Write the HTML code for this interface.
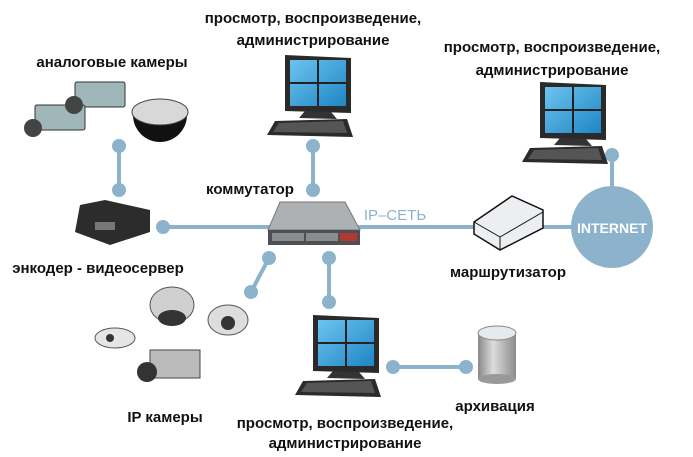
<!DOCTYPE html>
<html><head><meta charset="utf-8"><style>
html,body{margin:0;padding:0;background:#fff;}
svg{display:block}
text{font-family:"Liberation Sans",sans-serif;font-weight:bold;font-size:15px;fill:#111;text-anchor:middle}
</style></head><body>
<svg width="693" height="457" viewBox="0 0 693 457">
<defs>
<linearGradient id="scr" x1="0" y1="0" x2="1" y2="1"><stop offset="0" stop-color="#6ec3ef"/><stop offset="1" stop-color="#1d86c4"/></linearGradient>
<linearGradient id="cyl" x1="0" x2="1"><stop offset="0" stop-color="#888"/><stop offset=".4" stop-color="#ddd"/><stop offset="1" stop-color="#8a8a8a"/></linearGradient>
<g id="pc">
<polygon points="0,0 66,3 66,58 0,56" fill="#2a2a2a"/>
<rect x="5" y="5" width="56" height="46" fill="url(#scr)"/>
<line x1="33" y1="5" x2="33" y2="51" stroke="#222" stroke-width="2"/>
<line x1="5" y1="28" x2="61" y2="28" stroke="#222" stroke-width="2"/>
<polygon points="20,56 46,57 52,64 14,63" fill="#333"/>
<polygon points="-10,66 62,64 68,82 -18,80" fill="#2b2b2b"/>
<polygon points="-6,68 58,66 62,78 -12,77" fill="#555"/>
</g>
</defs>
<g stroke="#8db3cc" stroke-width="4" fill="#8db3cc">
<line x1="163" y1="227" x2="580" y2="227"/>
<line x1="119" y1="146" x2="119" y2="190"/><circle cx="119" cy="146" r="5"/><circle cx="119" cy="190" r="5"/>
<line x1="313" y1="146" x2="313" y2="190"/><circle cx="313" cy="146" r="5"/><circle cx="313" cy="190" r="5"/>
<circle cx="163" cy="227" r="5"/>
<line x1="269" y1="258" x2="251" y2="292"/><circle cx="269" cy="258" r="5"/><circle cx="251" cy="292" r="5"/>
<line x1="329" y1="258" x2="329" y2="302"/><circle cx="329" cy="258" r="5"/><circle cx="329" cy="302" r="5"/>
<line x1="393" y1="367" x2="466" y2="367"/><circle cx="393" cy="367" r="5"/><circle cx="466" cy="367" r="5"/>
<line x1="612" y1="155" x2="612" y2="190"/><circle cx="612" cy="155" r="5"/>
</g>
<circle cx="612" cy="227" r="41" fill="#8db3cc"/>
<text x="612" y="233" style="fill:#fff;font-size:14px">INTERNET</text>
<text x="395" y="220" style="fill:#8db3cc;font-weight:normal">IP–СЕТЬ</text>
<!-- switch -->
<polygon points="280,202 345,202 360,230 268,230" fill="#aeb1b4" stroke="#777"/>
<rect x="268" y="230" width="92" height="15" fill="#4d4f52"/>
<rect x="272" y="233" width="32" height="8" fill="#8a8d90"/><rect x="306" y="233" width="32" height="8" fill="#8a8d90"/><rect x="340" y="233" width="17" height="8" fill="#b03a30"/>
<!-- router -->
<polygon points="474,222 512,196 543,210 543,228 500,250 474,234" fill="#eceef2" stroke="#111" stroke-width="1.5"/>
<line x1="474" y1="222" x2="500" y2="237" stroke="#111"/><line x1="500" y1="237" x2="543" y2="212" stroke="#111"/><line x1="500" y1="237" x2="500" y2="250" stroke="#111"/>
<!-- cylinder -->
<rect x="478" y="333" width="38" height="46" fill="url(#cyl)"/>
<ellipse cx="497" cy="379" rx="19" ry="5" fill="#999"/>
<ellipse cx="497" cy="333" rx="19" ry="7" fill="#e6e9ee" stroke="#888"/>
<!-- encoder -->
<polygon points="80,205 105,200 150,210 150,232 110,245 75,232" fill="#2c2c2c"/>
<rect x="95" y="222" width="20" height="8" fill="#777"/>
<!-- analog cameras -->
<g fill="#9fb7b8" stroke="#333">
<rect x="75" y="82" width="50" height="25" rx="2"/>
<rect x="35" y="105" width="50" height="25" rx="2"/>
</g>
<circle cx="74" cy="105" r="9" fill="#444"/><circle cx="33" cy="128" r="9" fill="#444"/>
<path d="M133 115 a27 27 0 0 0 54 0 z" fill="#111"/>
<ellipse cx="160" cy="112" rx="28" ry="13" fill="#d8d8d8" stroke="#444"/>
<!-- IP cameras -->
<ellipse cx="172" cy="305" rx="22" ry="18" fill="#d0d0d0" stroke="#555"/><ellipse cx="172" cy="318" rx="14" ry="8" fill="#333"/>
<ellipse cx="228" cy="320" rx="20" ry="15" fill="#ddd" stroke="#555"/><circle cx="228" cy="323" r="7" fill="#333"/>
<ellipse cx="115" cy="338" rx="20" ry="10" fill="#e5e5e5" stroke="#555"/><circle cx="110" cy="338" r="4" fill="#333"/>
<rect x="150" y="350" width="50" height="28" fill="#bbb" stroke="#444"/><circle cx="147" cy="372" r="10" fill="#333"/>
<!-- PCs -->
<use href="#pc" x="285" y="55"/>
<use href="#pc" x="540" y="82"/>
<use href="#pc" x="313" y="315"/>
<!-- labels -->
<text x="313" y="23">просмотр, воспроизведение,</text>
<text x="313" y="45">администрирование</text>
<text x="552" y="52">просмотр, воспроизведение,</text>
<text x="552" y="75">администрирование</text>
<text x="112" y="67">аналоговые камеры</text>
<text x="250" y="194">коммутатор</text>
<text x="98" y="273">энкодер - видеосервер</text>
<text x="508" y="277">маршрутизатор</text>
<text x="165" y="422">IP камеры</text>
<text x="495" y="411">архивация</text>
<text x="345" y="428">просмотр, воспроизведение,</text>
<text x="345" y="448">администрирование</text>
</svg>
</body></html>
